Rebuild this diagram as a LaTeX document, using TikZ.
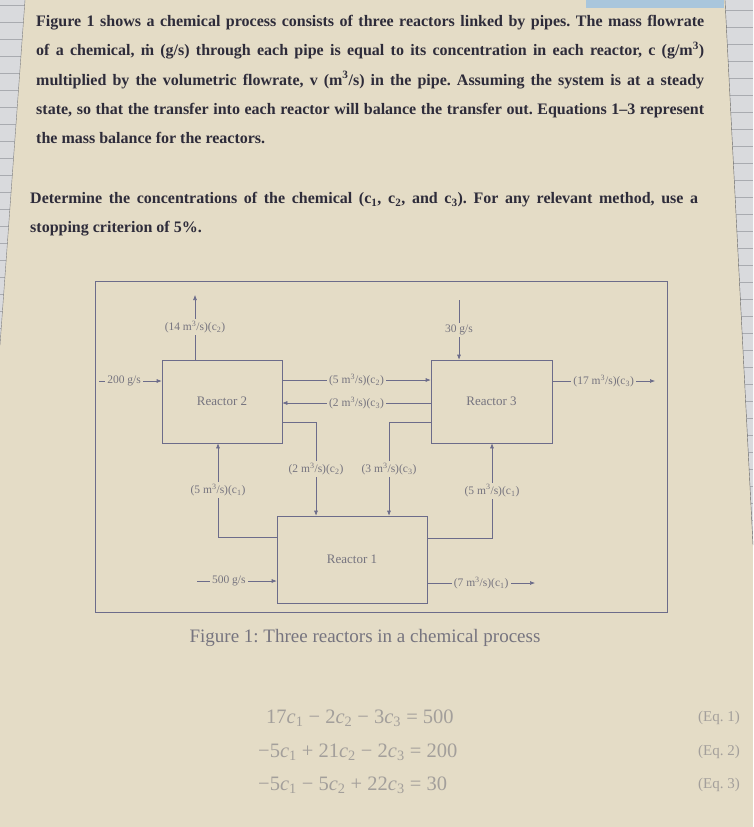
\documentclass[tikz,border=0pt]{standalone}
\usepackage{fontspec}
\setmainfont{Liberation Serif}
\usetikzlibrary{arrows.meta}
\frenchspacing

\definecolor{paper}{HTML}{E4DCC6}
\definecolor{ink}{HTML}{2E2C3A}
\definecolor{pipeblue}{HTML}{6C6C8A}
\definecolor{labelgray}{HTML}{76747F}
\definecolor{fadegray}{HTML}{A39F9B}
\definecolor{sheet}{HTML}{D9DADD}
\definecolor{sheetline}{HTML}{A9ABB0}
\definecolor{tabblue}{HTML}{A9C6DC}

\newcommand{\conc}[1]{\textit{c}\textsubscript{#1}}
\newcommand{\vol}[2]{(#1 m\textsuperscript{3}/s)(c\textsubscript{#2})}

\tikzset{
  reactor/.style={draw=pipeblue,line width=0.6pt,text=labelgray,font=\fontsize{13}{15}\selectfont},
  pipe/.style={draw=pipeblue,line width=0.6pt,-{Latex[length=5pt,width=4pt]}},
  flow/.style={fill=paper,text=labelgray,inner sep=2pt,font=\fontsize{11.5}{13}\selectfont},
  para/.style={text=ink,font=\bfseries\fontsize{16}{29.3}\selectfont,text width=668pt,align=justify,inner sep=0pt,anchor=north west},
  eqn/.style={text=fadegray,font=\fontsize{20.5}{22}\selectfont,inner sep=0pt},
  eqtag/.style={text=fadegray,font=\fontsize{15}{18}\selectfont,inner sep=0pt}
}

\begin{document}
\begin{tikzpicture}[x=1pt,y=-1pt]
  \useasboundingbox (0,0) rectangle (753,827);
  \fill[paper] (0,0) rectangle (753,827);
  \fill[sheet] (0,0) -- (25,0) -- (0,345) -- cycle;
  \fill[sheet] (725,0) -- (753,0) -- (753,545) -- cycle;
  \begin{scope}
    \clip (0,0) -- (25,0) -- (0,345) -- cycle;
    \foreach \y in {5,22,...,345} \draw[sheetline] (0,\y) -- (30,\y);
  \end{scope}
  \begin{scope}
    \clip (725,0) -- (753,0) -- (753,545) -- cycle;
    \foreach \y in {10,27,...,545} \draw[sheetline] (720,\y) -- (753,\y);
  \end{scope}
  \draw[gray] (25,0) -- (0,345);
  \draw[gray!80!black] (725,0) -- (753,545);
  \fill[tabblue] (586,0) rectangle (724,8);

  \node[para] (task) at (36,15) {Figure 1 shows a chemical process consists of three reactors linked by pipes. The mass flowrate\linebreak
    of a chemical, ṁ (g/s) through each pipe is equal to its concentration in each reactor, c (g/m\textsuperscript{3})\linebreak
    multiplied by the volumetric flowrate, v (m\textsuperscript{3}/s) in the pipe. Assuming the system is at a steady\linebreak
    state, so that the transfer into each reactor will balance the transfer out. Equations 1--3 represent\linebreak
    the mass balance for the reactors.};
  \node[para] (ask) at (30,192) {Determine the concentrations of the chemical (c\textsubscript{1}, c\textsubscript{2}, and c\textsubscript{3}). For any relevant method, use a\linebreak
    stopping criterion of 5\%.};

  \draw[pipeblue,line width=0.6pt] (95,281) rectangle (667,612);
  \node[reactor,minimum width=120pt,minimum height=83pt] (r2) at (222,401.5) {Reactor 2};
  \node[reactor,minimum width=121pt,minimum height=83pt] (r3) at (491.5,401.5) {Reactor 3};
  \node[reactor,minimum width=150pt,minimum height=87pt] (r1) at (352,559.5) {Reactor 1};
  \coordinate (in200) at (99,381);
  \coordinate (out14) at (195,295);
  \coordinate (in30) at (459,300);
  \coordinate (out17) at (655,381);
  \coordinate (in500) at (197,581);
  \coordinate (out7) at (535,583);

  \draw[pipe] (in200) -- node[flow,pos=0.4]{200 g/s} (r2.west |- in200);
  \draw[pipe] (r2.north -| out14) -- node[flow]{\vol{14}{2}} (out14);
  \draw[pipe] (in30) -- node[flow]{30 g/s} (r3.north -| in30);
  \draw[pipe] (r2.east |- 0,380) -- node[flow]{\vol{5}{2}} (r3.west |- 0,380);
  \draw[pipe] (r3.west |- 0,403) -- node[flow]{\vol{2}{3}} (r2.east |- 0,403);
  \draw[pipe] (r3.east |- out17) -- node[flow]{\vol{17}{3}} (out17);
  \draw[pipe] (r2.east |- 0,422) -| node[flow,pos=0.75]{\vol{2}{2}} (r1.north -| 316,0);
  \draw[pipe] (r3.west |- 0,422) -| node[flow,pos=0.75]{\vol{3}{3}} (r1.north -| 389,0);
  \draw[pipe] (r1.west |- 0,537) -| node[flow,pos=0.75]{\vol{5}{1}} (r2.south -| 218,0);
  \draw[pipe] (r1.east |- 0,538) -| node[flow,pos=0.75]{\vol{5}{1}} (r3.south -| 492,0);
  \draw[pipe] (in500) -- node[flow,pos=0.4]{500 g/s} (r1.west |- in500);
  \draw[pipe] (r1.east |- out7) -- node[flow]{\vol{7}{1}} (out7);

  \node[text=labelgray,font=\fontsize{19}{22}\selectfont] (cap) at (365,638) {Figure 1: Three reactors in a chemical process};

  \node[eqn,anchor=west] (eq1) at (266,718) {17\conc{1} − 2\conc{2} − 3\conc{3} = 500};
  \node[eqn,anchor=west] (eq2) at (258,752) {−5\conc{1} + 21\conc{2} − 2\conc{3} = 200};
  \node[eqn,anchor=west] (eq3) at (258,785) {−5\conc{1} − 5\conc{2} + 22\conc{3} = 30};
  \node[eqtag] (n1) at (719,718) {(Eq. 1)};
  \node[eqtag] (n2) at (719,752) {(Eq. 2)};
  \node[eqtag] (n3) at (719,785) {(Eq. 3)};
\end{tikzpicture}
\end{document}
